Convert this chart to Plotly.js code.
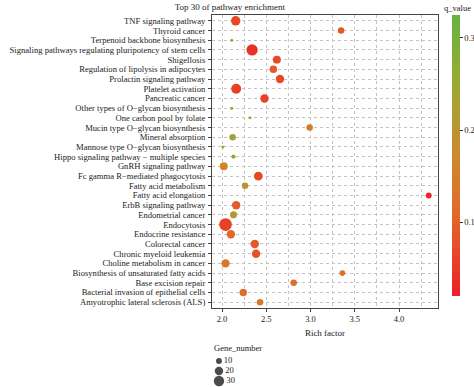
<!DOCTYPE html>
<html><head><meta charset="utf-8">
<script src="https://cdn.plot.ly/plotly-3.0.1.min.js"></script>
<style>html,body{margin:0;padding:0;background:#fff}#chart{width:474px;height:387px}</style>
</head><body><div id="chart"></div>
<script>
const pathways = [
  "TNF signaling pathway","Thyroid cancer","Terpenoid backbone biosynthesis",
  "Signaling pathways regulating pluripotency of stem cells","Shigellosis",
  "Regulation of lipolysis in adipocytes","Prolactin signaling pathway","Platelet activation",
  "Pancreatic cancer","Other types of O−glycan biosynthesis","One carbon pool by folate",
  "Mucin type O−glycan biosynthesis","Mineral absorption","Mannose type O−glycan biosynthesis",
  "Hippo signaling pathway − multiple species","GnRH signaling pathway",
  "Fc gamma R−mediated phagocytosis","Fatty acid metabolism","Fatty acid elongation",
  "ErbB signaling pathway","Endometrial cancer","Endocytosis","Endocrine resistance",
  "Colorectal cancer","Chronic myeloid leukemia","Choline metabolism in cancer",
  "Biosynthesis of unsaturated fatty acids","Base excision repair",
  "Bacterial invasion of epithelial cells","Amyotrophic lateral sclerosis (ALS)"
];
const richFactor = [2.155,3.345,2.11,2.34,2.62,2.58,2.655,2.16,2.48,2.11,2.316,2.99,2.12,2.01,2.13,
  2.02,2.41,2.26,4.335,2.16,2.13,2.04,2.10,2.37,2.385,2.04,3.36,2.81,2.24,2.43];
const geneNumber = [25,12,2,36,18,16,20,28,20,2,2,12,12,2,5,18,22,12,10,20,14,45,20,20,20,20,9,12,16,12];
const qValue = [0.07,0.09,0.30,0.04,0.07,0.09,0.07,0.06,0.06,0.30,0.22,0.14,0.24,0.27,0.28,
  0.16,0.07,0.20,0.03,0.09,0.20,0.06,0.11,0.09,0.08,0.14,0.12,0.12,0.12,0.14];
const legendSizes = [10,20,30];
const legendLabels = ["10","20","30"];

const serif = "Liberation Serif";
const SIZEREF = 0.565;
const colorscale = [[0,'#e8202a'],[0.15,'#e84628'],[0.3,'#e26a2a'],[0.5,'#cc8a2e'],
  [0.65,'#b09c30'],[0.8,'#90ac34'],[1,'#66b440']];

const main = {
  type:'scatter', mode:'markers', x:richFactor, y:pathways, xaxis:'x', yaxis:'y',
  marker:{size:geneNumber, sizemode:'area', sizeref:SIZEREF, sizemin:1.5,
    color:qValue, cmin:0.02, cmax:0.325, colorscale:colorscale, line:{width:0}, opacity:1,
    colorbar:{xref:'container', yref:'container', x:0.953, xanchor:'left', xpad:0, ypad:0,
      y:0.58, yanchor:'middle', len:0.76, lenmode:'fraction',
      thickness:8, outlinewidth:0, ticks:'outside', ticklen:3, tickcolor:'#333',
      tickvals:[0.1,0.2,0.3], tickfont:{family:serif,size:8.5,color:'#222'}}},
  hoverinfo:'skip', showlegend:false
};
const leg = {
  type:'scatter', mode:'markers+text', x:legendSizes.map(()=>7), y:legendSizes.map((s,i)=>2.5-i),
  xaxis:'x2', yaxis:'y2', text:legendLabels, textposition:'middle right',
  textfont:{family:serif,size:8.5,color:'#222'},
  marker:{size:legendSizes, sizemode:'area', sizeref:SIZEREF, color:'#000', line:{width:0}},
  hoverinfo:'skip', showlegend:false, cliponaxis:false
};
const layout = {
  width:474, height:387, margin:{l:212,r:36,t:15,b:2, autoexpand:false},
  paper_bgcolor:'#fff', plot_bgcolor:'#fff', showlegend:false,
  font:{family:serif, color:'#222'},
  title:{text:'Top 30 of pathway enrichment', font:{family:serif,size:9,color:'#222'},
    x:0.485, xanchor:'center', y:0.982, yanchor:'middle'},
  xaxis:{domain:[0,1], anchor:'y', range:[1.887,4.44], dtick:0.5, tick0:2, tickformat:'.1f',
    showgrid:true, gridcolor:'#c4c4c4', griddash:'dot', gridwidth:1,
    minor:{dtick:0.25, tick0:2, showgrid:true, gridcolor:'#c4c4c4', griddash:'dot', gridwidth:1},
    showline:true, mirror:true, linecolor:'#444', linewidth:1, zeroline:false,
    ticks:'outside', ticklen:3, tickcolor:'#444',
    tickfont:{family:serif,size:8.5,color:'#222'},
    title:{text:'Rich factor', font:{family:serif,size:9,color:'#222'}, standoff:6}},
  yaxis:{domain:[0.2081,1], anchor:'x', type:'category', categoryorder:'array', categoryarray:pathways,
    tickmode:'linear', dtick:1, tick0:0,
    range:[29.6,-0.6], showgrid:true, gridcolor:'#c4c4c4', griddash:'dot', gridwidth:1,
    showline:true, mirror:true, linecolor:'#444', linewidth:1, zeroline:false,
    ticks:'outside', ticklen:3, tickcolor:'#444', ticklabelstandoff:1,
    tickfont:{family:serif,size:8.6,color:'#222'}},
  xaxis2:{domain:[0,0.3], anchor:'y2', range:[0,68], visible:false},
  yaxis2:{domain:[0,0.0811], anchor:'x2', range:[0.1,3.1], visible:false},
  annotations:[
    {text:'Gene_number', xref:'paper', yref:'paper', x:0.002, y:0.1,
      xanchor:'left', yanchor:'middle', showarrow:false, font:{family:serif,size:8.5,color:'#222'}},
    {text:'q_value', xref:'paper', yref:'paper', x:1.018, y:1.019,
      xanchor:'left', yanchor:'middle', showarrow:false, font:{family:serif,size:8.5,color:'#222'}}
  ]
};
Plotly.newPlot('chart',[main,leg],layout,{staticPlot:true,displayModeBar:false});
</script></body></html>
